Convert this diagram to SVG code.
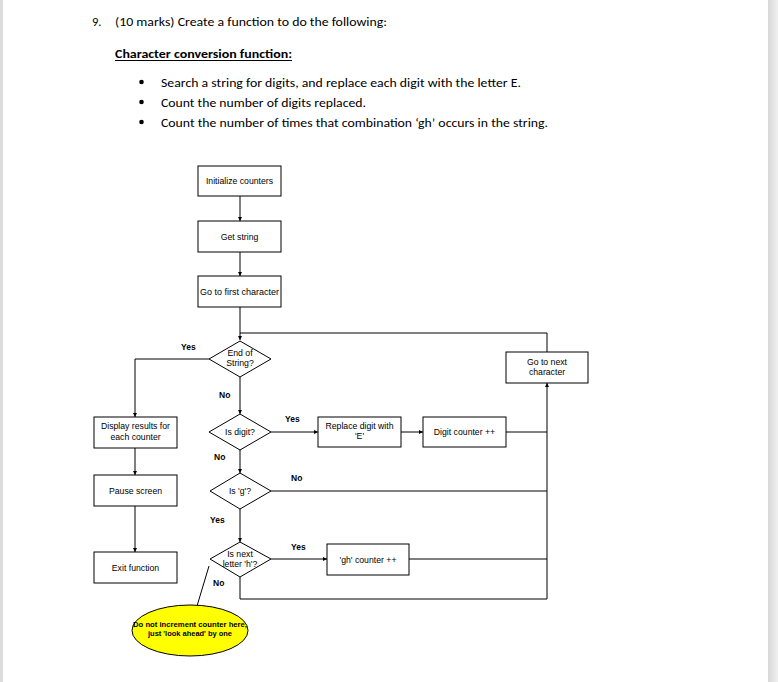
<svg xmlns="http://www.w3.org/2000/svg" width="778" height="682" viewBox="0 0 778 682">
<defs>
<marker id="ah" viewBox="0 0 6 6" refX="6" refY="3" markerWidth="4" markerHeight="4" orient="auto" markerUnits="userSpaceOnUse"><path d="M0,0 L6,3 L0,6 z" fill="#000"/></marker>
<linearGradient id="rg" x1="0" x2="1" y1="0" y2="0"><stop offset="0" stop-color="#d8d8d8"/><stop offset="1" stop-color="#f0f0f0"/></linearGradient>
</defs>
<style>
.doc{font-family:Carlito,"Open Sans","Liberation Sans",sans-serif;font-size:12.5px;fill:#000}
.b{fill:#fff;stroke:#000;stroke-width:1}
.t{font-family:"Liberation Sans",Arial,sans-serif;font-size:8.7px;fill:#000;text-anchor:middle}
.n{font-family:"Liberation Sans",Arial,sans-serif;font-size:6.4px;font-weight:bold;fill:#000;text-anchor:middle}
.l{font-family:"Liberation Sans",Arial,sans-serif;font-size:8.5px;font-weight:bold;fill:#000}
.c{fill:none;stroke:#000;stroke-width:1}
.ca{fill:none;stroke:#000;stroke-width:1;marker-end:url(#ah)}
</style>
<rect width="778" height="682" fill="#fff"/>
<rect x="0" y="0" width="3" height="682" fill="#dcdcdc"/>
<rect x="768" y="0" width="10" height="682" fill="url(#rg)"/>

<g id="header">
<text class="doc" x="92" y="26">9.</text>
<text class="doc" x="115" y="26" textLength="272" lengthAdjust="spacingAndGlyphs">(10 marks) Create a function to do the following:</text>
<text class="doc" x="115" y="58" font-weight="bold" textLength="177" lengthAdjust="spacingAndGlyphs">Character conversion function:</text>
<line x1="115" y1="60.5" x2="292" y2="60.5" stroke="#000" stroke-width="1"/>
<circle cx="141.5" cy="82" r="2.3" fill="#000"/>
<circle cx="141.5" cy="102" r="2.3" fill="#000"/>
<circle cx="141.5" cy="122" r="2.3" fill="#000"/>
<text class="doc" x="161" y="87" textLength="360" lengthAdjust="spacingAndGlyphs">Search a string for digits, and replace each digit with the letter E.</text>
<text class="doc" x="161" y="107" textLength="205" lengthAdjust="spacingAndGlyphs">Count the number of digits replaced.</text>
<text class="doc" x="161" y="127" textLength="387" lengthAdjust="spacingAndGlyphs">Count the number of times that combination ‘gh’ occurs in the string.</text>
</g>

<g id="connectors">
<line class="ca" x1="240" y1="196" x2="240" y2="221"/>
<line class="ca" x1="240" y1="252" x2="240" y2="276"/>
<line class="ca" x1="240" y1="307" x2="240" y2="340"/>
<polyline class="c" points="240,333 547,333 547,352"/>
<polyline class="ca" points="209,359 135,359 135,417"/>
<line class="ca" x1="240" y1="377" x2="240" y2="414"/>
<line class="ca" x1="271" y1="432" x2="318" y2="432"/>
<line class="ca" x1="401" y1="432" x2="423" y2="432"/>
<line class="c" x1="506" y1="432" x2="547" y2="432"/>
<line class="ca" x1="135" y1="448" x2="135" y2="475"/>
<line class="ca" x1="135" y1="506" x2="135" y2="552"/>
<line class="ca" x1="240" y1="450" x2="240" y2="473"/>
<line class="c" x1="271" y1="491" x2="547" y2="491"/>
<line class="ca" x1="240" y1="509" x2="240" y2="542"/>
<line class="ca" x1="271" y1="559" x2="327" y2="559"/>
<line class="c" x1="409" y1="559" x2="547" y2="559"/>
<polyline class="c" points="240,577 240,599 547,599"/>
<line class="ca" x1="547" y1="599" x2="547" y2="383"/>
<line class="c" x1="209" y1="566" x2="197" y2="606"/>
<text class="l" x="181" y="350">Yes</text>
<text class="l" x="219" y="398">No</text>
<text class="l" x="285" y="422">Yes</text>
<text class="l" x="214" y="460">No</text>
<text class="l" x="291" y="481">No</text>
<text class="l" x="210" y="523">Yes</text>
<text class="l" x="291" y="550">Yes</text>
<text class="l" x="213" y="586">No</text>
</g>

<g id="init"><rect class="b" x="198" y="166" width="83" height="30"/><text class="t" x="239.5" y="184">Initialize counters</text></g>
<g id="getstring"><rect class="b" x="198" y="221" width="83" height="31"/><text class="t" x="239.5" y="239.5">Get string</text></g>
<g id="firstchar"><rect class="b" x="198" y="276" width="83" height="31"/><text class="t" x="239.5" y="294.5" textLength="79" lengthAdjust="spacingAndGlyphs">Go to first character</text></g>
<g id="endofstring"><polygon class="b" points="240,341 271,359 240,377 209,359"/><text class="t" x="240" y="356">End of</text><text class="t" x="240" y="366">String?</text></g>
<g id="nextchar"><rect class="b" x="506" y="352" width="82" height="31"/><text class="t" x="547" y="365">Go to next</text><text class="t" x="547" y="375">character</text></g>
<g id="display"><rect class="b" x="94" y="417" width="83" height="31"/><text class="t" x="135.5" y="429">Display results for</text><text class="t" x="135.5" y="440">each counter</text></g>
<g id="isdigit"><polygon class="b" points="240,414 271,432 240,450 209,432"/><text class="t" x="240" y="435">Is digit?</text></g>
<g id="replace"><rect class="b" x="318" y="417" width="83" height="30"/><text class="t" x="359.5" y="429">Replace digit with</text><text class="t" x="359.5" y="439">'E'</text></g>
<g id="digitcounter"><rect class="b" x="423" y="417" width="83" height="30"/><text class="t" x="464.5" y="435">Digit counter ++</text></g>
<g id="pause"><rect class="b" x="94" y="475" width="83" height="31"/><text class="t" x="135.5" y="494">Pause screen</text></g>
<g id="isg"><polygon class="b" points="240,473 271,491 240,509 210,491"/><text class="t" x="240" y="494">Is 'g'?</text></g>
<g id="exit"><rect class="b" x="94" y="552" width="83" height="31"/><text class="t" x="135.5" y="570.5">Exit function</text></g>
<g id="isnexth"><polygon class="b" points="240,542 271,559 240,577 210,559"/><text class="t" x="240" y="557">Is next</text><text class="t" x="240" y="567">letter 'h'?</text></g>
<g id="ghcounter"><rect class="b" x="327" y="544" width="82" height="31"/><text class="t" x="368" y="562.5">'gh' counter ++</text></g>
<g id="note"><ellipse cx="190" cy="630.5" rx="58" ry="25.5" fill="#ffff00" stroke="#000" stroke-width="1"/>
<text class="n" x="190" y="627" textLength="114" lengthAdjust="spacingAndGlyphs">Do not increment counter here,</text>
<text class="n" x="190" y="635.5" textLength="84" lengthAdjust="spacingAndGlyphs">just 'look ahead' by one</text></g>
</svg>
